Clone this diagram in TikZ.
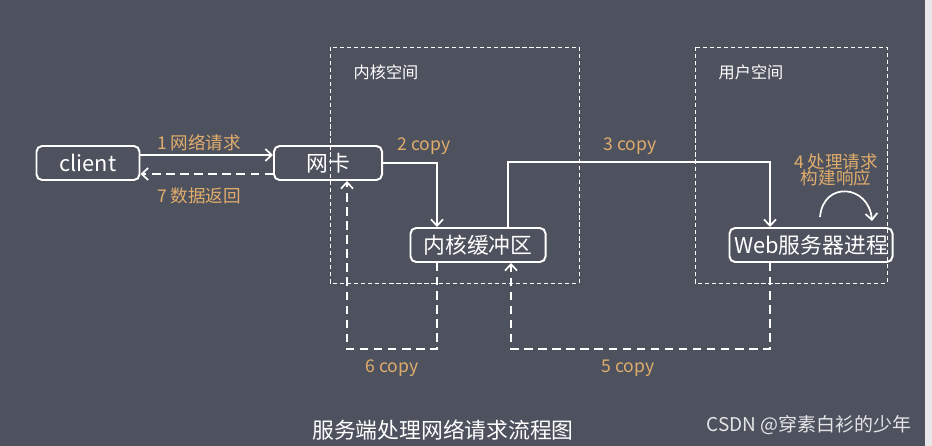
\documentclass[tikz,border=0pt]{standalone}
\usepackage{fontspec}
\setmainfont{Noto Sans CJK SC}
\usepackage{xcolor}
\usepackage{tikz}
\usetikzlibrary{arrows.meta, positioning}
\definecolor{slidebg}{RGB}{78,82,94}
\definecolor{steplabel}{RGB}{224,172,108}
\definecolor{edgestrip}{RGB}{232,232,234}

\begin{document}
\begin{tikzpicture}[
    x=0.025cm, y=-0.025cm,
    box/.style={rectangle, rounded corners=4pt, draw=white, line width=1.4pt, minimum height=0.85cm, inner sep=0pt, text=white, font=\fontsize{15.5}{17}\selectfont},
    flow/.style={-{Straight Barb[length=1.6mm, width=3mm]}, white, line width=1.2pt},
    back/.style={flow, dash pattern=on 6pt off 4pt},
    zone/.style={white, line width=0.6pt, dash pattern=on 3pt off 2pt},
    steptext/.style={text=steplabel, font=\fontsize{12.5}{14}\selectfont, inner sep=1pt},
    zonetext/.style={text=white, font=\fontsize{11.5}{13}\selectfont, inner sep=0pt}
]
    % Background
    \useasboundingbox (0,0) rectangle (932,446);
    \fill[slidebg] (0,0) rectangle (925,446);
    \fill[edgestrip] (925,0) rectangle (932,446);

    % Spaces
    \draw[zone] (330,47) rectangle (579,283);
    \draw[zone] (695,47) rectangle (887,283);
    \node[zonetext] (kspace) at (386,72) {内核空间};
    \node[zonetext] (uspace) at (751,72) {用户空间};

    % Boxes
    \node[box, minimum width=2.575cm] (client) at (88,163) {client};
    \node[box, minimum width=2.7cm] (nic) at (328,163) {网卡};
    \node[box, minimum width=3.375cm] (buf) at (478,245) {内核缓冲区};
    \node[box, minimum width=4.075cm] (web) at (811,245) {Web服务器进程};

    % Arrows
    \draw[flow] ([yshift=0.2cm]client.east) -- ([yshift=0.2cm]nic.west);
    \draw[back] ([yshift=-0.275cm]nic.west) -- ([yshift=-0.275cm]client.east);
    \draw[flow] (nic.east) -| ([xshift=-1.025cm]buf.north);
    \draw[flow] ([xshift=0.75cm]buf.north) -- ++(0,-65) -| ([xshift=-1.025cm]web.north);
    \draw[flow] ([xshift=0.225cm,yshift=0.25cm]web.north) to[out=85,in=95,looseness=1.8] ([xshift=1.525cm,yshift=0.15cm]web.north);
    \draw[back] ([xshift=-1.025cm]web.south) -- ++(0,86) -| ([xshift=0.825cm]buf.south);
    \draw[back] ([xshift=-1.025cm]buf.south) -- ++(0,86) -| ([xshift=0.475cm]nic.south);

    % Labels
    \node[steptext] (s1) at (199,143) {1 网络请求};
    \node[steptext] (s7) at (199,196) {7 数据返回};
    \node[steptext] (s2) at (424,146) {2 copy};
    \node[steptext] (s3) at (630,146) {3 copy};
    \node[steptext, align=center] (s4) at (836,170) {4 处理请求\\[-3pt]构建响应};
    \node[steptext] (s5) at (628,368) {5 copy};
    \node[steptext] (s6) at (392,368) {6 copy};

    % Caption
    \node[text=white, font=\fontsize{15.5}{17}\selectfont] (title) at (443,430) {服务端处理网络请求流程图};
    \node[text=white!85!slidebg, font=\fontsize{13.5}{15}\selectfont] (mark) at (809,425) {CSDN @穿素白衫的少年};
\end{tikzpicture}
\end{document}
